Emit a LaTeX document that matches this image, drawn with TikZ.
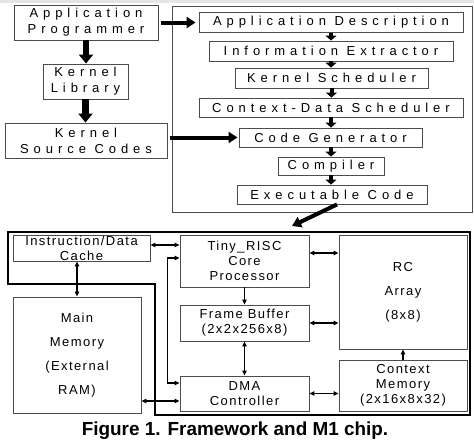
\documentclass[tikz,border=0pt]{standalone}
\usepackage{fontspec}
\setmainfont{Liberation Sans}
\newfontfamily\widefont[LetterSpace=38]{Liberation Sans}
\newfontfamily\chipfont[LetterSpace=11]{Liberation Sans}
\usetikzlibrary{arrows.meta}
\definecolor{edgegray}{gray}{0.3}
\begin{document}
\begin{tikzpicture}[x=1pt,y=-1pt,
  every node/.style={draw=edgegray, line width=0.9pt, align=center, inner sep=0pt},
  flowbox/.style={font=\widefont\fontsize{13}{16}\selectfont},
  chipbox/.style={font=\chipfont\fontsize{13}{15}\selectfont},
  tallbox/.style={font=\chipfont\fontsize{13}{24}\selectfont},
  fatarr/.style={line width=6.5pt, -{Triangle[length=9pt,width=14pt]}},
  midarr/.style={line width=4pt, -{Triangle[length=9pt,width=11pt]}},
  stackarr/.style={line width=4pt, -{Triangle[length=5pt,width=11pt]}},
  thinarr/.style={line width=1.1pt, >={Triangle[length=5pt,width=4.5pt]}}]
\useasboundingbox (0,0) rectangle (474,440);
\fill[gray!20] (0,0) rectangle (474,2.5);
\node[flowbox, minimum width=144pt, minimum height=35pt] (aprog) at (86,22.5) {Application\\Programmer};
\node[flowbox, minimum width=85pt, minimum height=35pt] (klib) at (85.5,81.5) {Kernel\\Library};
\node[flowbox, minimum width=162pt, minimum height=35pt] (ksrc) at (86,140.5) {Kernel\\Source Codes};
\node[minimum width=300pt, minimum height=206pt] (toolframe) at (322,109) {};
\node[flowbox, minimum width=264pt, minimum height=20pt] (appdesc) at (331,22.5) {Application Description};
\node[flowbox, minimum width=244pt, minimum height=20pt] (infoext) at (331,51) {Information Extractor};
\node[flowbox, minimum width=193pt, minimum height=20pt] (ksched) at (331.5,78) {Kernel Scheduler};
\node[flowbox, minimum width=264pt, minimum height=19pt] (cdsched) at (331,107.5) {Context-Data Scheduler};
\node[flowbox, minimum width=183pt, minimum height=19pt] (codegen) at (330.5,137.5) {Code Generator};
\node[flowbox, minimum width=106pt, minimum height=18pt] (compiler) at (331,166) {Compiler};
\node[flowbox, minimum width=190pt, minimum height=19pt] (exe) at (332,194.5) {Executable Code};
\draw[fatarr] (aprog.south) -- (aprog.south |- klib.north);
\draw[fatarr] (klib.south) -- (klib.south |- ksrc.north);
\draw[midarr, shorten <=3pt, shorten >=3pt] (aprog.east) -- (appdesc.west);
\draw[midarr, shorten <=3pt, shorten >=1pt] (codegen.west -| ksrc.east) -- (codegen.west);
\draw[stackarr] (appdesc.south) -- (appdesc.south |- infoext.north);
\draw[stackarr] (infoext.south) -- (infoext.south |- ksched.north);
\draw[stackarr] (ksched.south) -- (ksched.south |- cdsched.north);
\draw[stackarr] (cdsched.south) -- (cdsched.south |- codegen.north);
\draw[stackarr] (codegen.south -| compiler) -- (compiler.north);
\draw[stackarr] (compiler.south) -- (compiler.south |- exe.north);
\coordinate (chipentry) at (292,226);
\draw[midarr] ([xshift=5pt]exe.south) -- (chipentry);
\draw[line width=2pt] (8,232) -- (470,232) -- (470,415) -- (155,415) -- (155,284) -- (8,284) -- cycle;
\node[chipbox, minimum width=137pt, minimum height=26pt] (cache) at (81.5,248) {Instruction/Data\\Cache};
\node[tallbox, minimum width=128pt, minimum height=116pt] (mainmem) at (77,355) {Main\\Memory\\(External\\RAM)};
\node[chipbox, minimum width=129pt, minimum height=52pt] (tiny) at (244.5,261) {Tiny\_RISC\\Core\\Processor};
\node[chipbox, minimum width=129pt, minimum height=36pt] (fbuf) at (244.5,323) {Frame Buffer\\(2x2x256x8)};
\node[chipbox, minimum width=129pt, minimum height=35pt] (dma) at (244.5,393.5) {DMA\\Controller};
\node[tallbox, minimum width=128pt, minimum height=114pt] (rcarr) at (403,292) {RC\\Array\\(8x8)};
\node[chipbox, minimum width=128pt, minimum height=51pt] (ctxmem) at (403,385.5) {Context\\Memory\\(2x16x8x32)};
\draw[thinarr, <->] ([yshift=3pt]cache.east) -- ([yshift=3pt]cache.east -| tiny.west);
\draw[thinarr, <->] (mainmem.north |- cache.south) -- (mainmem.north);
\draw[thinarr, <->] ([yshift=-7.5pt]dma.west -| mainmem.east) -- ([yshift=-7.5pt]dma.west);
\draw[thinarr, ->] (tiny.south) -- (fbuf.north);
\draw[thinarr, <->] (fbuf.south) -- (dma.north);
\draw[thinarr, <->] ([yshift=8pt]tiny.east) -- ([yshift=8pt]tiny.east -| rcarr.west);
\draw[thinarr, <->] (fbuf.east) -- (fbuf.east -| rcarr.west);
\draw[thinarr, <->] (dma.east) -- (dma.east -| ctxmem.west);
\draw[thinarr, ->] (ctxmem.north) -- (rcarr.south);
\draw[thinarr, <->] ([yshift=3pt]tiny.west) -- ++(-12,0) |- ([yshift=10.5pt]dma.west);
\node[draw=none, anchor=base, font=\bfseries\fontsize{18.9}{22}\selectfont] (caption) at (235,435.5) {Figure 1. Framework and M1 chip.};
\end{tikzpicture}
\end{document}
